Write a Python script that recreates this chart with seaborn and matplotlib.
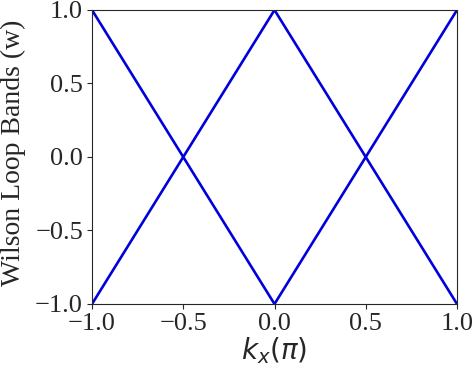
import matplotlib
matplotlib.use("Agg")
import matplotlib.pyplot as plt
import seaborn as sns
import pandas as pd

kx = [-1.0, -0.5, 0.0, 0.5, 1.0]
band1 = [-1.0, 0.0, 1.0, 0.0, -1.0]
band2 = [1.0, 0.0, -1.0, 0.0, 1.0]
xticks = [-1.0, -0.5, 0.0, 0.5, 1.0]
yticks = [-1.0, -0.5, 0.0, 0.5, 1.0]

sns.set_style("ticks")
plt.rcParams['font.family'] = ['Liberation Serif', 'DejaVu Serif']
plt.rcParams['mathtext.fontset'] = 'dejavusans'

df = pd.DataFrame({"kx": kx * 2, "w": band1 + band2,
                   "band": ["b1"] * len(kx) + ["b2"] * len(kx)})

fig = plt.figure(figsize=(4.74, 3.71), dpi=100)
ax = fig.add_axes([92 / 474, 1 - 304 / 371, (457 - 92) / 474, (304 - 10) / 371])
sns.lineplot(data=df, x="kx", y="w", units="band", estimator=None,
             color="#0000dd", linewidth=1.9, ax=ax, legend=False)
ax.set_xlim(-1, 1)
ax.set_ylim(-1, 1)
ax.set_xticks(xticks)
ax.set_yticks(yticks)
ax.set_xticklabels([f"{v:.1f}".replace("-", "\u2212") for v in xticks])
ax.set_yticklabels([f"{v:.1f}".replace("-", "\u2212") for v in yticks])
ax.tick_params(labelsize=19, length=3.5, width=0.8, pad=3)
for s in ax.spines.values():
    s.set_visible(True)
    s.set_linewidth(0.8)
ax.set_xlabel(r"$k_x(\pi)$", fontsize=20, labelpad=0)
ax.set_ylabel("Wilson Loop Bands (w)", fontsize=20, labelpad=0)
ax.yaxis.set_label_coords(-0.18, 0.515)
fig.savefig("out.png", dpi=100)
